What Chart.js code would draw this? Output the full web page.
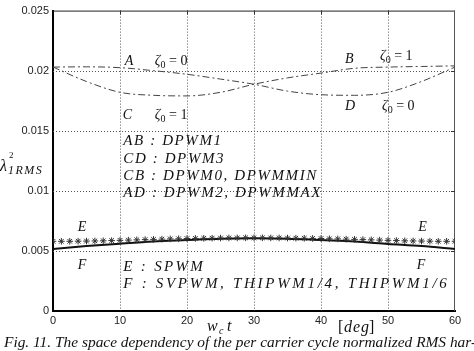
<!DOCTYPE html>
<html>
<head>
<meta charset="utf-8">
<script src="https://cdn.jsdelivr.net/npm/chart.js@4.4.1/dist/chart.umd.min.js"></script>
<style>
  html, body { margin: 0; padding: 0; background: #fff; }
  #wrap { width: 474px; height: 351px; }
</style>
</head>
<body>
<div id="wrap"><canvas id="chart" width="474" height="351"></canvas></div>
<script>
// angle grid for the smooth curves (deg)
const degCoarse = [0, 5, 10, 15, 20, 25, 30, 35, 40, 45, 50, 55, 60];

// A -> D curve (zeta0 = 0) and C -> B curve (zeta0 = 1)
const curveAD = [0.0203, 0.02032, 0.02025, 0.0200, 0.0197, 0.0193, 0.01887, 0.0183, 0.0180, 0.01795, 0.0182, 0.0191, 0.0203];
const curveCB = [0.0203, 0.0191, 0.0182, 0.01795, 0.0179, 0.0182, 0.01887, 0.0194, 0.0198, 0.0202, 0.0203, 0.02035, 0.0204];

// F : SVPWM, THIPWM (solid)
const curveF = [0.00515, 0.0054, 0.0056, 0.00578, 0.0059, 0.00602, 0.00606, 0.00602, 0.0059, 0.00578, 0.00558, 0.0054, 0.00515];

// E : SPWM (asterisk markers)
const degE = [0, 1.25, 2.5, 3.75, 5, 6.25, 7.5, 8.75, 10, 11.25, 12.5, 13.75, 15, 16.25, 17.5, 18.75,
  20, 21.25, 22.5, 23.75, 25, 26.25, 27.5, 28.75, 30, 31.25, 32.5, 33.75, 35, 36.25, 37.5, 38.75,
  40, 41.25, 42.5, 43.75, 45, 46.25, 47.5, 48.75, 50, 51.25, 52.5, 53.75, 55, 56.25, 57.5, 58.75, 60];
const valE = [0.0058, 0.0058, 0.0058, 0.00581, 0.00582, 0.00583, 0.00584, 0.00586, 0.00588, 0.0059, 0.00592, 0.00594,
  0.00596, 0.00598, 0.006, 0.00601, 0.00603, 0.00604, 0.00605, 0.00606, 0.00607, 0.00608, 0.00608, 0.00609, 0.00609,
  0.00609, 0.00608, 0.00608, 0.00607, 0.00606, 0.00605, 0.00604, 0.00603, 0.00601, 0.006, 0.00598, 0.00596, 0.00594,
  0.00592, 0.0059, 0.00588, 0.00586, 0.00584, 0.00583, 0.00582, 0.00581, 0.0058, 0.0058, 0.0058];

const xTicks = [0, 10, 20, 30, 40, 50, 60];
const yTicks = [0, 0.005, 0.01, 0.015, 0.02, 0.025];
const yTickLabels = ['0', '0.005', '0.01', '0.015', '0.02', '0.025'];

// text inside the plot, placed in data coords [deg, value]
const curveLabels = [
  { x: 10.7, y: 0.0205, parts: [['A', 'i']] },
  { x: 15.2, y: 0.0205, parts: [['ζ', 'i'], ['0', 'sub'], [' = 0', 'r']] },
  { x: 43.6, y: 0.0206, parts: [['B', 'i']] },
  { x: 48.8, y: 0.0209, parts: [['ζ', 'i'], ['0', 'sub'], [' = 1', 'r']] },
  { x: 10.4, y: 0.0160, parts: [['C', 'i']] },
  { x: 15.2, y: 0.0160, parts: [['ζ', 'i'], ['0', 'sub'], [' = 1', 'r']] },
  { x: 43.6, y: 0.01675, parts: [['D', 'i']] },
  { x: 49.1, y: 0.01675, parts: [['ζ', 'i'], ['0', 'sub'], [' = 0', 'r']] },
  { x: 3.7, y: 0.00662, parts: [['E', 'i']] },
  { x: 54.5, y: 0.00662, parts: [['E', 'i']] },
  { x: 3.7, y: 0.00351, parts: [['F', 'i']] },
  { x: 54.3, y: 0.00351, parts: [['F', 'i']] }
];
const keyLines = [
  { y: 0.0138, text: 'AB : DPWM1', sp: 1.6 },
  { y: 0.01234, text: 'CD : DPWM3', sp: 1.6 },
  { y: 0.01087, text: 'CB : DPWM0, DPWMMIN', sp: 1.6 },
  { y: 0.00948, text: 'AD : DPWM2, DPWMMAX', sp: 1.6 },
  { y: 0.00335, text: 'E : SPWM', sp: 2.3 },
  { y: 0.00188, text: 'F : SVPWM, THIPWM1/4, THIPWM1/6', sp: 2.7 }
];
const keyX = 10.5;
const caption = 'Fig. 11. The space dependency of the per carrier cycle normalized RMS har-';

const SERIF = '"Liberation Serif", "DejaVu Serif", serif';
const SANS = '"Liberation Sans", Arial, sans-serif';
const fonts = {
  i: 'italic 14px ' + SERIF,
  r: '14px ' + SERIF,
  sub: '10px ' + SERIF
};

function toXY(xs, ys) {
  return xs.map((x, i) => ({ x: x, y: ys[i] }));
}

function drawParts(ctx, x, y, parts) {
  parts.forEach(p => {
    ctx.font = fonts[p[1]];
    const dy = p[1] === 'sub' ? 3 : 0;
    ctx.fillText(p[0], x, y + dy);
    x += ctx.measureText(p[0]).width;
  });
}

const paperPlugin = {
  id: 'paper',
  beforeDatasetsDraw(chart) {
    const { ctx, chartArea: a, scales } = chart;
    ctx.save();
    // dotted grid
    ctx.strokeStyle = '#555';
    ctx.lineWidth = 1;
    ctx.setLineDash([1, 2]);
    xTicks.slice(1, -1).forEach(v => {
      const px = Math.round(scales.x.getPixelForValue(v)) + 0.5;
      ctx.beginPath(); ctx.moveTo(px, a.top); ctx.lineTo(px, a.bottom); ctx.stroke();
    });
    yTicks.slice(1, -1).forEach(v => {
      const py = Math.round(scales.y.getPixelForValue(v)) + 0.5;
      ctx.beginPath(); ctx.moveTo(a.left, py); ctx.lineTo(a.right, py); ctx.stroke();
    });
    ctx.setLineDash([]);
    // top and right frame
    ctx.strokeStyle = '#222';
    ctx.beginPath();
    ctx.moveTo(a.left, a.top + 0.5);
    ctx.lineTo(a.right, a.top + 0.5);
    ctx.stroke();
    ctx.strokeStyle = '#555';
    ctx.beginPath();
    ctx.moveTo(a.right - 0.5, a.top);
    ctx.lineTo(a.right - 0.5, a.bottom);
    ctx.stroke();
    // small inward ticks on top and right
    ctx.strokeStyle = '#333';
    xTicks.slice(1, -1).forEach(v => {
      const px = Math.round(scales.x.getPixelForValue(v)) + 0.5;
      ctx.beginPath(); ctx.moveTo(px, a.top); ctx.lineTo(px, a.top + 4); ctx.stroke();
    });
    yTicks.slice(1, -1).forEach(v => {
      const py = Math.round(scales.y.getPixelForValue(v)) + 0.5;
      ctx.beginPath(); ctx.moveTo(a.right, py); ctx.lineTo(a.right - 4, py); ctx.stroke();
    });
    ctx.restore();
  },
  afterDraw(chart) {
    const { ctx, scales } = chart;
    ctx.save();
    ctx.fillStyle = '#111';
    ctx.textBaseline = 'alphabetic';
    ctx.textAlign = 'left';

    curveLabels.forEach(l => {
      drawParts(ctx, scales.x.getPixelForValue(l.x), scales.y.getPixelForValue(l.y), l.parts);
    });

    ctx.font = 'italic 15px ' + SERIF;
    keyLines.forEach(k => {
      ctx.letterSpacing = k.sp + 'px';
      ctx.fillText(k.text, scales.x.getPixelForValue(keyX), scales.y.getPixelForValue(k.y));
    });
    ctx.letterSpacing = '0px';

    // y axis title: lambda^2_1RMS
    ctx.font = 'italic 16px ' + SERIF;
    ctx.fillText('λ', 0, 171);
    ctx.font = '9px ' + SERIF;
    ctx.fillText('2', 9, 158);
    ctx.font = 'italic 12px ' + SERIF;
    ctx.letterSpacing = '1.5px';
    ctx.fillText('1RMS', 8, 174);
    ctx.letterSpacing = '0px';

    // x axis title
    ctx.font = 'italic 16px ' + SERIF;
    ctx.fillText('w', 207, 331);
    ctx.font = 'italic 10px ' + SERIF;
    ctx.fillText('c', 219, 334);
    ctx.font = 'italic 16px ' + SERIF;
    ctx.fillText('t', 227, 331);
    ctx.font = '16px ' + SERIF;
    ctx.fillText('[', 338, 332);
    ctx.font = 'italic 16px ' + SERIF;
    ctx.letterSpacing = '1px';
    ctx.fillText('deg', 344, 332);
    ctx.letterSpacing = '0px';
    ctx.font = '16px ' + SERIF;
    ctx.fillText(']', 369, 332);

    // caption
    ctx.font = 'italic 15.4px ' + SERIF;
    ctx.fillText(caption, 4, 347);
    ctx.restore();
  }
};

new Chart(document.getElementById('chart'), {
  type: 'line',
  data: {
    datasets: [
      {
        label: 'AD',
        data: toXY(degCoarse, curveAD),
        borderColor: '#444',
        borderWidth: 1,
        borderDash: [7, 3, 2, 3],
        pointRadius: 0,
        cubicInterpolationMode: 'monotone',
        fill: false
      },
      {
        label: 'CB',
        data: toXY(degCoarse, curveCB),
        borderColor: '#444',
        borderWidth: 1,
        borderDash: [7, 3, 2, 3],
        pointRadius: 0,
        cubicInterpolationMode: 'monotone',
        fill: false
      },
      {
        label: 'E',
        data: toXY(degE, valE),
        showLine: false,
        pointStyle: 'star',
        pointRadius: 3.3,
        pointBorderWidth: 1,
        pointBorderColor: '#333',
        borderColor: '#333'
      },
      {
        label: 'F',
        data: toXY(degCoarse, curveF),
        borderColor: '#111',
        borderWidth: 2,
        pointRadius: 0,
        cubicInterpolationMode: 'monotone',
        fill: false
      }
    ]
  },
  options: {
    responsive: false,
    animation: false,
    devicePixelRatio: 1,
    layout: { padding: { left: 0, right: 19, top: 5, bottom: 0 } },
    plugins: { legend: { display: false }, tooltip: { enabled: false } },
    scales: {
      x: {
        type: 'linear',
        min: 0,
        max: 60,
        afterBuildTicks: s => { s.ticks = xTicks.map(v => ({ value: v })); },
        afterFit: s => { s.height = 40; },
        ticks: { padding: 3, color: '#222', font: { family: SANS, size: 11 }, maxRotation: 0 },
        grid: { display: false, drawTicks: false },
        border: { display: true, color: '#000', width: 2 }
      },
      y: {
        type: 'linear',
        min: 0,
        max: 0.025,
        afterBuildTicks: s => { s.ticks = yTicks.map(v => ({ value: v })); },
        afterFit: s => { s.width = 53; },
        ticks: {
          padding: 4,
          color: '#222',
          font: { family: SANS, size: 11 },
          callback: (v, i) => yTickLabels[i]
        },
        grid: { display: false, drawTicks: false },
        border: { display: true, color: '#000', width: 2 }
      }
    }
  },
  plugins: [paperPlugin]
});
</script>
</body>
</html>
